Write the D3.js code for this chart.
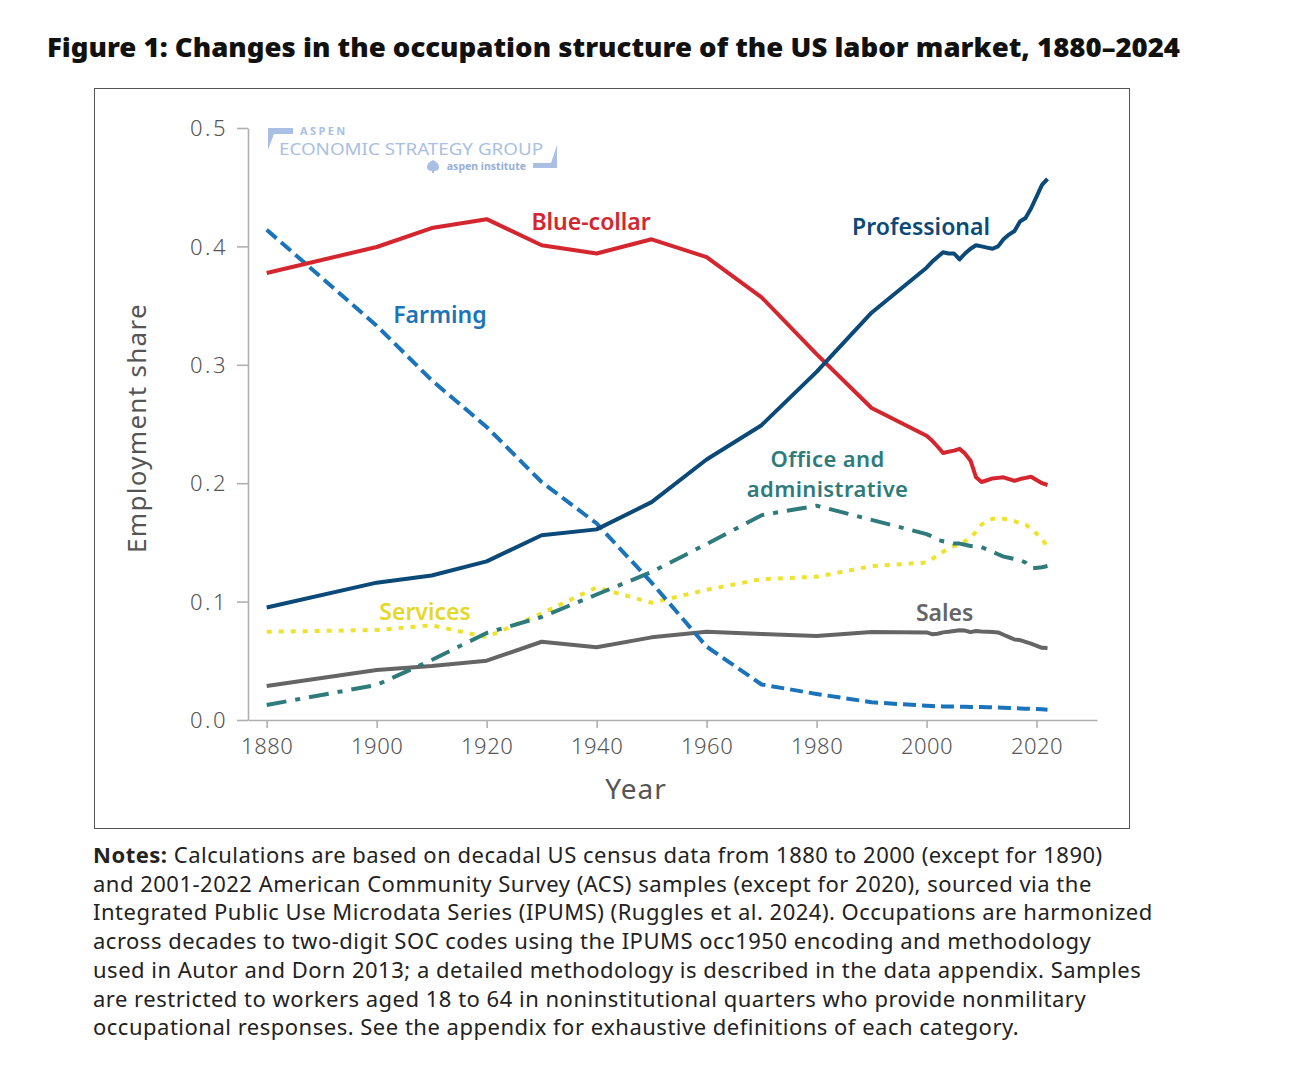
<!DOCTYPE html>
<html>
<head>
<meta charset="utf-8">
<script src="https://cdn.jsdelivr.net/npm/d3@7"></script>
<style>
  body { margin: 0; background: #fff; }
  svg text { font-family: "Noto Sans", Lato, sans-serif; }
</style>
</head>
<body>
<div id="chart"></div>
<script>
var years = [1880,1900,1910,1920,1930,1940,1950,1960,1970,1980,1990,
  2000,2001,2002,2003,2004,2005,2006,2007,2008,2009,2010,2011,2012,2013,2014,2015,2016,2017,2018,2019,2021,2022];

var professional = [0.095,0.116,0.122,0.134,0.156,0.161,0.184,0.220,0.249,0.294,0.344,
  0.382,0.387,0.391,0.395,0.394,0.394,0.389,0.394,0.398,0.401,0.400,0.399,0.398,0.400,0.406,0.410,0.413,0.421,0.424,0.432,0.452,0.457];
var blueCollar = [0.3775,0.3995,0.4155,0.423,0.401,0.394,0.406,0.391,0.357,0.309,0.2635,
  0.240,0.236,0.231,0.2255,0.2265,0.2275,0.229,0.225,0.219,0.205,0.201,0.2025,0.204,0.2045,0.205,0.2035,0.202,0.2035,0.2045,0.2055,0.200,0.1985];
var farming = [0.414,0.333,0.287,0.2475,0.201,0.166,0.116,0.062,0.030,0.022,0.015,
  0.012,0.0118,0.0116,0.0115,0.0114,0.0113,0.0112,0.0111,0.011,0.011,0.0109,0.0108,0.0107,0.0106,0.0104,0.0102,0.010,0.0098,0.0096,0.0094,0.009,0.0087];
var office = [0.0127,0.0296,0.0507,0.0735,0.087,0.106,0.125,0.1486,0.173,0.181,0.169,
  0.157,0.155,0.152,0.151,0.150,0.149,0.149,0.148,0.147,0.147,0.146,0.144,0.142,0.140,0.138,0.137,0.136,0.135,0.133,0.128,0.129,0.130];
var services = [0.0745,0.076,0.080,0.070,0.090,0.112,0.099,0.110,0.119,0.121,0.130,
  0.133,0.136,0.139,0.142,0.145,0.147,0.148,0.151,0.154,0.159,0.165,0.168,0.170,0.170,0.170,0.169,0.168,0.166,0.165,0.162,0.153,0.146];
var sales = [0.0287,0.0422,0.0456,0.0501,0.0661,0.0614,0.0698,0.0746,0.0726,0.071,0.0743,
  0.0740,0.0725,0.0728,0.074,0.0745,0.0752,0.0758,0.0755,0.0742,0.0752,0.0748,0.0746,0.0744,0.0740,0.072,0.070,0.068,0.0675,0.066,0.0645,0.061,0.0608];

var xTicks = [1880,1900,1920,1940,1960,1980,2000,2020];
var yTicks = [0, 0.1, 0.2, 0.3, 0.4, 0.5];

var series = [
  {name: "Sales", values: sales, color: "#656565", dash: null},
  {name: "Services", values: services, color: "#ede32e", dash: "5,7"},
  {name: "Office", values: office, color: "#2f7b7b", dash: "20,9,5,9"},
  {name: "Farming", values: farming, color: "#1b74bb", dash: "13,6"},
  {name: "Blue-collar", values: blueCollar, color: "#d5252e", dash: null},
  {name: "Professional", values: professional, color: "#0b4979", dash: null}
];

// labels: [text lines, year, value, color]
var labels = [
  {lines: ["Blue-collar"], year: 1939, value: 0.4206, color: "#d5252e", size: 23},
  {lines: ["Professional"], year: 1999, value: 0.4164, color: "#0b4979", size: 23},
  {lines: ["Farming"], year: 1911.5, value: 0.342, color: "#1b74bb", size: 23},
  {lines: ["Office and", "administrative"], year: 1982, value: 0.2205, color: "#2f7b7b", size: 22},
  {lines: ["Services"], year: 1908.8, value: 0.0912, color: "#e4d82c", size: 23},
  {lines: ["Sales"], year: 2003.3, value: 0.0904, color: "#656565", size: 23}
];

var notes = [
  "Calculations are based on decadal US census data from 1880 to 2000 (except for 1890)",
  "and 2001-2022 American Community Survey (ACS) samples (except for 2020), sourced via the",
  "Integrated Public Use Microdata Series (IPUMS) (Ruggles et al. 2024). Occupations are harmonized",
  "across decades to two-digit SOC codes using the IPUMS occ1950 encoding and methodology",
  "used in Autor and Dorn 2013; a detailed methodology is described in the data appendix. Samples",
  "are restricted to workers aged 18 to 64 in noninstitutional quarters who provide nonmilitary",
  "occupational responses. See the appendix for exhaustive definitions of each category."
];

var W = 1300, H = 1066;
var svg = d3.select("#chart").append("svg")
  .attr("width", W).attr("height", H);

svg.append("text")
  .attr("x", 47).attr("y", 57)
  .attr("font-family", "Lato, sans-serif")
  .attr("font-size", 27).attr("font-weight", 900).attr("fill", "#111")
  .attr("textLength", 1133).attr("lengthAdjust", "spacingAndGlyphs")
  .text("Figure 1: Changes in the occupation structure of the US labor market, 1880\u20132024");

svg.append("rect")
  .attr("x", 94.5).attr("y", 88.5).attr("width", 1035).attr("height", 740)
  .attr("fill", "none").attr("stroke", "#555").attr("stroke-width", 1);

var x = d3.scaleLinear().domain([1876.6, 2031]).range([248, 1097]);
var y = d3.scaleLinear().domain([0, 0.5]).range([720, 128]);

// logo
var logo = svg.append("g").attr("fill", "#a9bfe3");
logo.append("path").attr("d", "M268,128 L293,128 L293,134 L274,134 L268,150 Z");
logo.append("path").attr("d", "M557,145 L557,168 L533,168 L533,163 L551,163 Z");
logo.append("text").attr("x", 300).attr("y", 135).attr("font-size", 11)
  .attr("font-weight", 700).attr("letter-spacing", 2.4).text("ASPEN");
logo.append("text").attr("x", 279).attr("y", 155).attr("font-size", 17)
  .attr("font-weight", 400).attr("textLength", 264).attr("lengthAdjust", "spacingAndGlyphs")
  .text("ECONOMIC STRATEGY GROUP");
logo.append("path").attr("d", "M433,160 Q439,163 439,167 Q439,171 434,171 L434,173 L432,173 L432,171 Q427,171 427,167 Q427,163 433,160 Z");
logo.append("text").attr("x", 526).attr("y", 170).attr("font-size", 10.5)
  .attr("font-weight", 700).attr("text-anchor", "end").attr("fill", "#98aed6")
  .text("aspen institute");

// axes
var xAxis = svg.append("g")
  .attr("transform", "translate(0,720)")
  .call(d3.axisBottom(x).tickValues(xTicks).tickFormat(d3.format("d")).tickSize(8).tickSizeOuter(0));
var yAxis = svg.append("g")
  .attr("transform", "translate(248,0)")
  .call(d3.axisLeft(y).tickValues(yTicks).tickFormat(d3.format(".1f")).tickSize(11).tickSizeOuter(0));

[xAxis, yAxis].forEach(function(a) {
  a.select(".domain").attr("stroke", "#b0b0b0").attr("stroke-width", 1.6);
  a.selectAll(".tick line").attr("stroke", "#b0b0b0").attr("stroke-width", 1.6);
  a.selectAll(".tick text").attr("fill", "#555").attr("font-size", 22)
    .attr("font-family", "Lato, sans-serif").attr("font-weight", 300);
});
xAxis.selectAll(".tick text").attr("dy", "1.05em").attr("letter-spacing", 0.5);
yAxis.selectAll(".tick text").attr("x", -20).attr("dy", "0.35em").attr("letter-spacing", 2.5);

svg.append("text")
  .attr("transform", "translate(146,428) rotate(-90)")
  .attr("text-anchor", "middle").attr("font-size", 26).attr("fill", "#555")
  .attr("letter-spacing", 1.3)
  .text("Employment share");
svg.append("text")
  .attr("x", 636).attr("y", 799)
  .attr("text-anchor", "middle").attr("font-size", 28).attr("fill", "#555")
  .attr("letter-spacing", 1)
  .text("Year");

// lines
var line = d3.line()
  .x(function(d, i) { return x(years[i]); })
  .y(function(d) { return y(d); });

svg.selectAll(".series")
  .data(series)
  .enter()
  .append("path")
  .attr("class", "series")
  .attr("fill", "none")
  .attr("stroke", function(d) { return d.color; })
  .attr("stroke-width", 4)
  .attr("stroke-linejoin", "round")
  .attr("stroke-dasharray", function(d) { return d.dash; })
  .attr("d", function(d) { return line(d.values); });

// series labels
labels.forEach(function(l) {
  l.lines.forEach(function(s, i) {
    svg.append("text")
      .attr("text-anchor", "middle")
      .attr("font-size", l.size).attr("font-weight", 600)
      .attr("letter-spacing", l.lines.length > 1 ? 0.4 : 0)
      .attr("fill", l.color)
      .attr("x", x(l.year))
      .attr("y", y(l.value) + i * 30)
      .attr("dy", "0.35em")
      .text(s);
  });
});

// notes
var nt = svg.append("g");
notes.forEach(function(s, i) {
  var t = nt.append("text")
    .attr("x", 93).attr("y", 863 + i * 28.7)
    .attr("font-size", 22).attr("letter-spacing", 0.5).attr("fill", "#222");
  if (i === 0) {
    t.append("tspan").attr("font-weight", 700).text("Notes: ");
  }
  t.append("tspan").text(s);
});
</script>
</body>
</html>
